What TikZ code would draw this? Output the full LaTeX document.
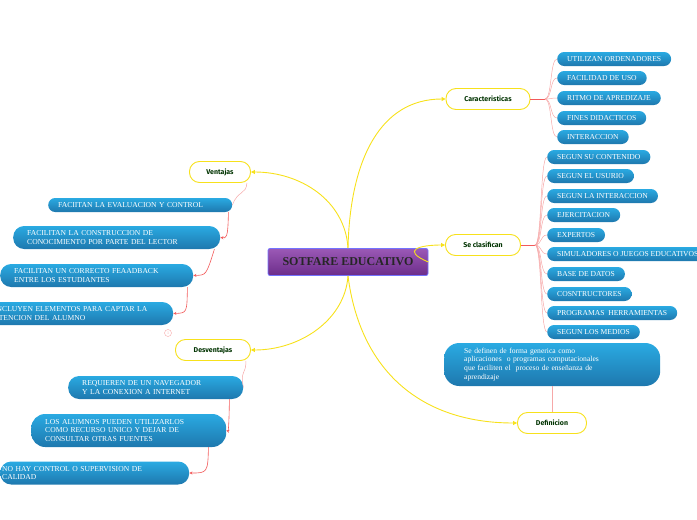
\documentclass[tikz,border=0pt]{standalone}
\usepackage{fontspec}
\setmainfont{Liberation Serif}
\newfontfamily\hdfont{Fira Sans}
\usetikzlibrary{arrows.meta}
\definecolor{ytop}{HTML}{2AAAE2}
\definecolor{ybot}{HTML}{1E78AE}
\definecolor{yel}{HTML}{F7E11B}
\definecolor{lnk}{HTML}{F25A5A}
\definecolor{pnk}{HTML}{F6A8A8}
\definecolor{ptop}{HTML}{9B59B6}
\definecolor{pbot}{HTML}{6C2D8A}
\tikzset{
 item/.style={anchor=west,rounded corners=7pt,top color=ytop,bottom color=ybot,draw=none,text=white,font=\fontsize{7.6}{8.6}\selectfont,align=left,inner xsep=10pt,inner ysep=2pt,minimum height=14pt},
 head/.style={draw=yel,line width=0.9pt,fill=white,rounded corners=10pt,font=\hdfont\bfseries\fontsize{7}{8}\selectfont,text=black!80!green,minimum height=21pt,inner xsep=4pt},
 ylink/.style={draw=yel,line width=0.9pt,-{Triangle[length=4pt,width=4pt]}},
 rlink/.style={draw=lnk,line width=0.6pt},
 plink/.style={draw=pnk,line width=0.5pt},
 rarrow/.style={draw=lnk,line width=0.6pt,-{Stealth[length=3pt,width=3pt]}}
}
\begin{document}
\begin{tikzpicture}[x=1pt,y=-1pt]
\useasboundingbox (0,0) rectangle (697,520);
% central
\node[draw=blue!55,line width=0.8pt,top color=ptop,bottom color=pbot,rounded corners=2pt,minimum width=160pt,minimum height=27pt,font=\bfseries\fontsize{12}{13}\selectfont,text=black!85] (c) at (348,262) {SOTFARE EDUCATIVO};
% heads
\node[head,minimum width=84pt] (car) at (488,99) {Caracteristicas};
\node[head,minimum width=75pt] (cla) at (483,245) {Se clasifican};
\node[head,minimum width=69pt] (def) at (552,423) {Definicion};
\node[head,minimum width=61pt] (ven) at (220,172) {Ventajas};
\node[head,minimum width=75pt] (des) at (213,350) {Desventajas};
\draw[ylink] (c.north) .. controls (350,160) and (380,99) .. (car.west);
\draw[ylink] (c.east) .. controls (400,250) and (420,245) .. (cla.west);
\draw[ylink] (c.south) .. controls (360,370) and (420,423) .. (def.west);
\draw[ylink] (c.north) .. controls (345,200) and (300,172) .. (ven.east);
\draw[ylink] (c.south) .. controls (345,320) and (300,350) .. (des.east);
% caracteristicas items
\coordinate (cf) at (545,99);
\draw[rlink] (car.east) -- (cf);
\foreach \n/\y/\t in {a1/59/UTILIZAN ORDENADORES,a2/78/FACILIDAD DE USO,a3/98/RITMO DE APREDIZAJE,a4/118/FINES DIDACTICOS,a5/137/INTERACCION}{
 \node[item] (\n) at (557,\y) {\t};
 \draw[plink] (cf) .. controls (552,99) and (550,\y) .. (\n.west);
}
% clasifican items
\coordinate (sf) at (535,245);
\draw[rlink] (cla.east) -- (sf);
\foreach \n/\y/\t in {b1/157/SEGUN SU CONTENIDO,b2/176/SEGUN EL USURIO,b3/196/SEGUN LA INTERACCION,b4/215/EJERCITACION,b5/235/EXPERTOS,b6/254/SIMULADORES O JUEGOS EDUCATIVOS,b7/274/BASE DE DATOS,b8/294/COSNTRUCTORES,b9/313/PROGRAMAS\ \ HERRAMIENTAS,b10/332/SEGUN LOS MEDIOS}{
 \node[item] (\n) at (547,\y) {\t};
 \draw[plink] (sf) .. controls (542,245) and (540,\y) .. (\n.west);
}
% definicion
\node[item,font=\fontsize{7.6}{8.8}\selectfont,text width=176pt,minimum height=43pt,rounded corners=15pt,inner xsep=20pt] (dtext) at (444,364.5) {Se definen de forma generica como\\aplicaciones\ \ o programas computacionales\\que faciliten el\ \ proceso de enseñanza de\\aprendizaje};
\draw[plink] (def.north) -- (def.north |- dtext.south);
% ventajas
\node[item,text width=164pt] (v1) at (48,205) {FACIITAN LA EVALUACION Y CONTROL};
\node[item,text width=179pt,minimum height=23pt,rounded corners=11pt,inner xsep=14pt] (v2) at (13,237.5) {FACILITAN LA CONSTRUCCION DE\\CONOCIMIENTO POR PARTE DEL LECTOR};
\node[item,text width=165pt,minimum height=23pt,rounded corners=11pt,inner xsep=14pt] (v3) at (0,275.5) {FACILITAN UN CORRECTO FEAADBACK\\ENTRE LOS ESTUDIANTES};
\node[item,text width=165pt,minimum height=23pt,rounded corners=11pt,inner xsep=14pt] (v4) at (-20,313.5) {INCLUYEN ELEMENTOS PARA CAPTAR LA\\ATENCION DEL ALUMNO};
\draw[plink] ([xshift=-4pt]ven.south east) .. controls (246,195) and (238,190) .. (v1.east);
\draw[rarrow] ([xshift=-4pt]v1.south east) .. controls (228,240) and (226,238) .. (v2.east);
\draw[rarrow] ([xshift=-6pt]v2.south east) .. controls (206,276) and (206,275) .. (v3.east);
\draw[rarrow] ([xshift=-6pt]v3.south east) .. controls (187,313) and (187,313) .. (v4.east);
\node[draw=pnk,circle,inner sep=0.5pt,minimum size=7pt,font=\fontsize{4}{4}\selectfont,text=pnk] (n1) at (168,333) {1};
% desventajas
\node[item,text width=147pt,minimum height=23pt,rounded corners=11pt,inner xsep=14pt] (d1) at (68,387.5) {REQUIEREN DE UN NAVEGADOR\\Y LA CONEXION A INTERNET};
\node[item,text width=167pt,minimum height=33pt,rounded corners=14pt,inner xsep=14pt] (d2) at (31,430.5) {LOS ALUMNOS PUEDEN UTILIZARLOS\\COMO RECURSO UNICO Y DEJAR DE\\CONSULTAR OTRAS FUENTES};
\node[item,text width=185pt,minimum height=23pt,rounded corners=11pt,inner xsep=2pt] (d3) at (0,473) {NO HAY CONTROL O SUPERVISION DE\\CALIDAD};
\draw[plink] ([xshift=-5pt]des.south east) .. controls (246,375) and (240,370) .. (d1.east);
\draw[rarrow] ([xshift=-14pt]d1.south east) .. controls (229,430) and (228,431) .. (d2.east);
\draw[rarrow] ([xshift=-18pt]d2.south east) .. controls (208,473) and (207,473) .. (d3.east);
\end{tikzpicture}
\end{document}
